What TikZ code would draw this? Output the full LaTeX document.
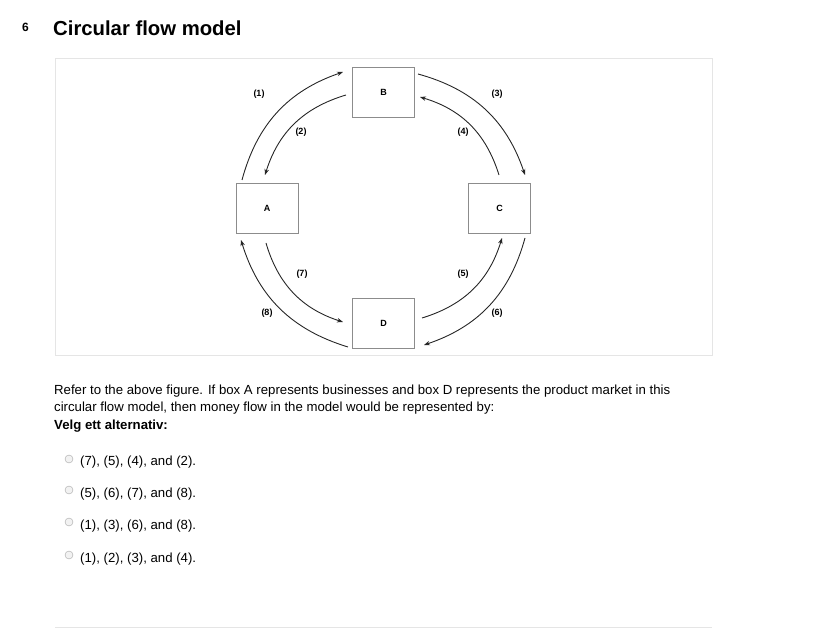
\documentclass[tikz,border=0pt]{standalone}
\usepackage{fontspec}
\setmainfont{Liberation Sans}
\usetikzlibrary{arrows.meta}
\begin{document}
\begin{tikzpicture}[x=1pt,y=-1pt,
  box/.style={draw=black!45,line width=0.9pt,minimum width=62pt,minimum height=50pt,font=\fontsize{9}{10}\selectfont\bfseries},
  flow/.style={-{Stealth[length=6pt,width=4.5pt]},line width=0.9pt,black!85},
  lab/.style={font=\fontsize{9}{10}\selectfont\bfseries},
  txt/.style={anchor=west,font=\fontsize{13.2}{15}\selectfont,inner sep=0},
  radio/.style={draw=black!35,fill=black!5,circle,minimum size=8pt,inner sep=0}]
\useasboundingbox (0,0) rectangle (820,628);
\node[anchor=west,font=\fontsize{12}{13}\selectfont\bfseries,inner sep=0] (num) at (22,27) {6};
\node[anchor=west,font=\fontsize{20.3}{23}\selectfont\bfseries,inner sep=0] (title) at (53,28) {Circular flow model};
\draw[black!10,line width=0.8pt] (55,58) rectangle (712,355);
\node[box] (B) at (383.5,92) {B};
\node[box] (A) at (267,208) {A};
\node[box] (C) at (499.5,208) {C};
\node[box] (D) at (383.5,323) {D};
\coordinate (a1) at (242,180); \coordinate (b1) at (343,72);
\coordinate (b2) at (346,95); \coordinate (a2) at (265,175);
\coordinate (b3) at (418,74); \coordinate (c3) at (525,175);
\coordinate (c4) at (499,175); \coordinate (b4) at (420,97);
\coordinate (a7) at (266,243); \coordinate (d7) at (343,322);
\coordinate (d8) at (348,347); \coordinate (a8) at (241,240);
\coordinate (d5) at (422,318); \coordinate (c5) at (502,238);
\coordinate (c6) at (525,238); \coordinate (d6) at (424,345);
\draw[flow] (a1) to[bend left=28] (b1);
\draw[flow] (b2) to[bend right=28] (a2);
\draw[flow] (b3) to[bend left=28] (c3);
\draw[flow] (c4) to[bend right=28] (b4);
\draw[flow] (a7) to[bend right=28] (d7);
\draw[flow] (d8) to[bend left=28] (a8);
\draw[flow] (d5) to[bend right=28] (c5);
\draw[flow] (c6) to[bend left=28] (d6);
\node[lab] (l1) at (259,94) {(1)};
\node[lab] (l2) at (301,132) {(2)};
\node[lab] (l3) at (497,94) {(3)};
\node[lab] (l4) at (463,132) {(4)};
\node[lab] (l7) at (302,274) {(7)};
\node[lab] (l5) at (463,274) {(5)};
\node[lab] (l8) at (267,313) {(8)};
\node[lab] (l6) at (497,313) {(6)};
\node[txt] (q1) at (54,391) {Refer to the above figure. If box A represents businesses and box D represents the product market in this};
\node[txt] (q2) at (54,408) {circular flow model, then money flow in the model would be represented by:};
\node[txt,font=\fontsize{13.2}{15}\selectfont\bfseries] (q3) at (54,426) {Velg ett alternativ:};
\node[radio] (r1) at (69,459) {}; \node[txt] (o1) at (80,462) {(7), (5), (4), and (2).};
\node[radio] (r2) at (69,490) {}; \node[txt] (o2) at (80,494) {(5), (6), (7), and (8).};
\node[radio] (r3) at (69,522) {}; \node[txt] (o3) at (80,526) {(1), (3), (6), and (8).};
\node[radio] (r4) at (69,555) {}; \node[txt] (o4) at (80,559) {(1), (2), (3), and (4).};
\draw[black!10,line width=0.8pt] (55,627) -- (712,627);
\end{tikzpicture}
\end{document}
